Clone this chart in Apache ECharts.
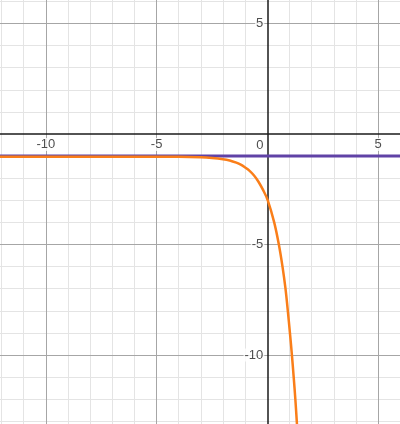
<!DOCTYPE html>
<html>
<head>
<meta charset="utf-8">
<script src="https://cdn.jsdelivr.net/npm/echarts@6/dist/echarts.min.js"></script>
<style>
  html, body { margin: 0; padding: 0; background: #fff; }
  #chart { width: 400px; height: 424px; }
</style>
</head>
<body>
<div id="chart"></div>
<script>
// view window
var xRange = [-12.07, 5.99];
var yRange = [-13.12, 6.06];

// grid lines
var xMinor = [-12, -11, -10, -9, -8, -7, -6, -5, -4, -3, -2, -1, 1, 2, 3, 4, 5];
var yMinor = [-13, -12, -11, -10, -9, -8, -7, -6, -5, -4, -3, -2, -1, 1, 2, 3, 4, 5, 6];
var xMajor = [-10, -5, 5];
var yMajor = [-10, -5, 5];
var xTickLabels = ['-10', '-5', '5'];
var yTickLabels = ['-10', '-5', '5'];

// horizontal asymptote (purple)
var asymX = [-12.5, 6.5];
var asymY = [-1, -1];

// orange curve, points
var curveX = [-12.5, -6, -4, -3, -2.5, -2, -1.7, -1.4, -1.2, -1, -0.8, -0.6, -0.4, -0.2, 0.02, 0.31, 0.52, 0.685, 0.82, 0.925, 1.02, 1.11, 1.19, 1.265, 1.33, 1.39];
var curveY = [-1.03, -1.03, -1.035, -1.055, -1.085, -1.14, -1.2, -1.3, -1.39, -1.52, -1.67, -1.88, -2.16, -2.52, -3.0, -4.0, -5.0, -6.0, -7.0, -8.0, -9.0, -10.0, -11.0, -12.0, -13.0, -14.0];

(function () {
    var myChart = echarts.init(document.getElementById('chart'));

    var minorColor = '#e4e4e4';
    var majorColor = '#a6a6a6';
    var axisColor = '#1a1a1a';
    var font = 'Liberation Sans, Arial, sans-serif';

    function vLines(vals) {
        return vals.map(function (v) { return { xAxis: v }; });
    }
    function hLines(vals) {
        return vals.map(function (v) { return { yAxis: v }; });
    }
    function gridSeries(data, color, width, z) {
        return {
            type: 'line',
            data: [],
            silent: true,
            z: z,
            markLine: {
                silent: true,
                symbol: 'none',
                animation: false,
                label: { show: false },
                lineStyle: { color: color, width: width, type: 'solid' },
                emphasis: { disabled: true },
                data: data
            }
        };
    }

    var labelStyle = {
        show: true,
        color: '#222',
        fontSize: 13,
        fontFamily: font,
        backgroundColor: '#fff',
        padding: [0, 1]
    };

    var xLabelData = xMajor.map(function (v, i) { return { value: [v, 0], name: xTickLabels[i] }; });
    var yLabelData = yMajor.map(function (v, i) { return { value: [0, v], name: yTickLabels[i] }; });

    var option = {
        animation: false,
        backgroundColor: '#fff',
        grid: { left: 0, right: 0, top: 0, bottom: 0 },
        xAxis: {
            type: 'value',
            min: xRange[0],
            max: xRange[1],
            axisLine: { show: false },
            axisTick: { show: false },
            axisLabel: { show: false },
            splitLine: { show: false }
        },
        yAxis: {
            type: 'value',
            min: yRange[0],
            max: yRange[1],
            axisLine: { show: false },
            axisTick: { show: false },
            axisLabel: { show: false },
            splitLine: { show: false }
        },
        series: [
            gridSeries(vLines(xMinor).concat(hLines(yMinor)), minorColor, 1, 1),
            gridSeries(vLines(xMajor).concat(hLines(yMajor)), majorColor, 1, 2),
            gridSeries([{ xAxis: 0 }, { yAxis: 0 }], axisColor, 1.5, 3),
            {
                type: 'line',
                data: asymX.map(function (x, i) { return [x, asymY[i]]; }),
                showSymbol: false,
                silent: true,
                z: 5,
                lineStyle: { color: '#6042a6', width: 3 }
            },
            {
                type: 'line',
                data: curveX.map(function (x, i) { return [x, curveY[i]]; }),
                showSymbol: false,
                smooth: 0.35,
                silent: true,
                z: 6,
                lineStyle: { color: '#fa7e19', width: 2.5 }
            },
            {
                type: 'scatter',
                symbolSize: 0,
                silent: true,
                z: 8,
                data: xLabelData,
                label: Object.assign({}, labelStyle, {
                    position: 'bottom',
                    distance: 4,
                    formatter: function (p) { return p.name; }
                })
            },
            {
                type: 'scatter',
                symbolSize: 0,
                silent: true,
                z: 8,
                data: yLabelData,
                label: Object.assign({}, labelStyle, {
                    position: 'left',
                    distance: 3,
                    formatter: function (p) { return p.name; }
                })
            },
            {
                type: 'scatter',
                symbolSize: 0,
                silent: true,
                z: 8,
                data: [{ value: [0, 0], name: '0' }],
                label: Object.assign({}, labelStyle, {
                    position: [-12, 5],
                    formatter: function (p) { return p.name; }
                })
            }
        ]
    };

    myChart.setOption(option);
    window.addEventListener('resize', function () {
        myChart.resize();
    });
})();
</script>
</body>
</html>
